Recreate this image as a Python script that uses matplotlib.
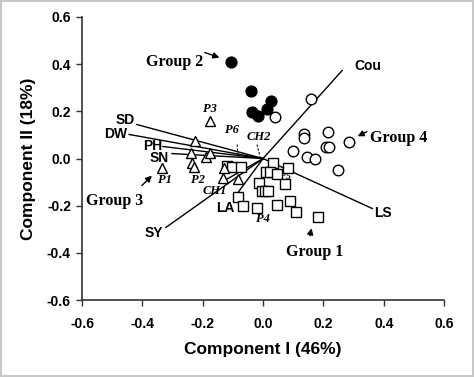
import numpy as np
import matplotlib
matplotlib.use("Agg")
import matplotlib.pyplot as plt

# group 1 (open squares)
g1_x = [-0.119, -0.103, -0.073, 0.033, 0.083, 0.010, 0.023, 0.046, -0.013, 0.073,
        -0.003, 0.007, 0.017, -0.083, -0.066, -0.020, 0.046, 0.090, 0.109, 0.182]
g1_y = [-0.030, -0.034, -0.038, -0.017, -0.042, -0.059, -0.059, -0.064, -0.102, -0.110,
        -0.136, -0.136, -0.136, -0.161, -0.203, -0.208, -0.195, -0.182, -0.225, -0.246]

# group 2 (filled circles)
g2_x = [-0.106, -0.040, 0.027, 0.013, -0.036, -0.017]
g2_y = [0.411, 0.288, 0.242, 0.212, 0.199, 0.182]

# group 3 (open triangles)
g3_x = [-0.226, -0.239, -0.235, -0.229, -0.189, -0.176, -0.129, -0.133, -0.083, -0.176, -0.335]
g3_y = [0.076, 0.025, -0.017, -0.038, 0.008, 0.025, -0.042, -0.081, -0.085, 0.157, -0.042]

# group 4 (open circles)
g4_x = [0.159, 0.040, 0.136, 0.136, 0.216, 0.285, 0.209, 0.219, 0.100, 0.146, 0.172, 0.249]
g4_y = [0.254, 0.174, 0.102, 0.085, 0.114, 0.068, 0.047, 0.047, 0.030, 0.008, -0.004, -0.047]

# trait vectors
vec_names = ['Cou', 'LS', 'SY', 'LA', '', 'SD', 'DW', 'PH', 'SN']
vec_x = [0.262, 0.362, -0.322, -0.083, -0.133, -0.418, -0.444, -0.332, -0.302]
vec_y = [0.373, -0.212, -0.292, -0.144, -0.097, 0.144, 0.102, 0.051, 0.021]

# italic point labels
pt_names = ['P3', 'P6', 'CH2', 'P1', 'P2', 'CH1', 'P4', 'P5']
pt_x = [-0.176, -0.103, -0.013, -0.325, -0.216, -0.159, 0.0, 0.073]
pt_y = [0.208, 0.123, 0.093, -0.089, -0.093, -0.136, -0.258, -0.076]

ticks = [-0.6, -0.4, -0.2, 0.0, 0.2, 0.4, 0.6]

sans = 'Liberation Sans'
serif = 'Liberation Serif'

fig = plt.figure(figsize=(4.74, 3.77), dpi=100)
fig.patch.set_edgecolor('#c8c8c8')
fig.patch.set_linewidth(1.5)
ax = fig.add_axes([0.173, 0.204, 0.764, 0.751])

# vectors
for vx, vy in zip(vec_x, vec_y):
    ax.plot([0, vx], [0, vy], color='black', lw=1.0, zorder=2)

ax.plot(g1_x, g1_y, 's', ms=6.8, mfc='white', mec='black', mew=1.0, zorder=3)
ax.plot(g3_x, g3_y, '^', ms=7.2, mfc='white', mec='black', mew=1.0, zorder=3)
ax.plot(g4_x, g4_y, 'o', ms=7.6, mfc='white', mec='black', mew=1.0, zorder=3)
ax.plot(g2_x, g2_y, 'o', ms=7.8, mfc='black', mec='black', mew=1.0, zorder=3)

# vector labels
lab_style = dict(family=sans, fontweight='bold', fontsize=10, va='center')
ax.text(0.302, 0.394, 'Cou', ha='left', **lab_style)
ax.text(0.368, -0.229, 'LS', ha='left', **lab_style)
ax.text(-0.332, -0.314, 'SY', ha='right', **lab_style)
ax.text(-0.126, -0.208, 'LA', ha='center', **lab_style)
ax.text(-0.425, 0.165, 'SD', ha='right', **lab_style)
ax.text(-0.451, 0.106, 'DW', ha='right', **lab_style)
ax.text(-0.335, 0.054, 'PH', ha='right', **lab_style)
ax.text(-0.312, 0.001, 'SN', ha='right', **lab_style)

# point labels
for name, px, py in zip(pt_names, pt_x, pt_y):
    fs = 7 if name == 'P5' else 9
    ax.text(px, py, name, family=serif, style='italic', fontweight='bold',
            fontsize=fs, ha='center', va='center', zorder=1)
ax.plot([-0.086, -0.083], [0.059, 0.008], 'k--', lw=0.8, dashes=(2, 1.5))
ax.plot([-0.020, -0.010], [0.059, 0.008], 'k--', lw=0.8, dashes=(2, 1.5))

# group labels with arrows
grp_style = dict(family=serif, fontweight='bold', fontsize=11.5, va='center')
arr = dict(arrowstyle='-|>', color='black', lw=1.0, mutation_scale=9)
ax.text(-0.292, 0.411, 'Group 2', ha='center', **grp_style)
ax.annotate('', xy=(-0.136, 0.424), xytext=(-0.202, 0.453), arrowprops=arr)
ax.text(0.355, 0.089, 'Group 4', ha='left', **grp_style)
ax.annotate('', xy=(0.305, 0.089), xytext=(0.352, 0.119), arrowprops=arr)
ax.text(-0.491, -0.182, 'Group 3', ha='center', **grp_style)
ax.annotate('', xy=(-0.362, -0.064), xytext=(-0.408, -0.123), arrowprops=arr)
ax.text(0.172, -0.398, 'Group 1', ha='center', **grp_style)
ax.annotate('', xy=(0.163, -0.284), xytext=(0.153, -0.339), arrowprops=arr)

ax.set_xlim(-0.6, 0.6)
ax.set_ylim(-0.6, 0.6)
ax.set_xticks(ticks)
ax.set_yticks(ticks)
ax.set_xticklabels(['%.1f' % t for t in ticks])
ax.set_yticklabels(['%.1f' % t for t in ticks])
for lbl in ax.get_xticklabels() + ax.get_yticklabels():
    lbl.set_family(sans)
    lbl.set_fontweight('bold')
    lbl.set_fontsize(10)
ax.tick_params(direction='out', length=4, width=1.0, color='#333333', pad=4)
ax.tick_params(axis='x', pad=8)
for s in ['top', 'right']:
    ax.spines[s].set_visible(False)
for s in ['left', 'bottom']:
    ax.spines[s].set_linewidth(1.2)
    ax.spines[s].set_color('#333333')

ax.set_xlabel('Component I (46%)', family=sans, fontweight='bold', fontsize=12.5, labelpad=8)
ax.set_ylabel('Component II (18%)', family=sans, fontweight='bold', fontsize=12.5, labelpad=8)

fig.savefig('out.png', dpi=100)
